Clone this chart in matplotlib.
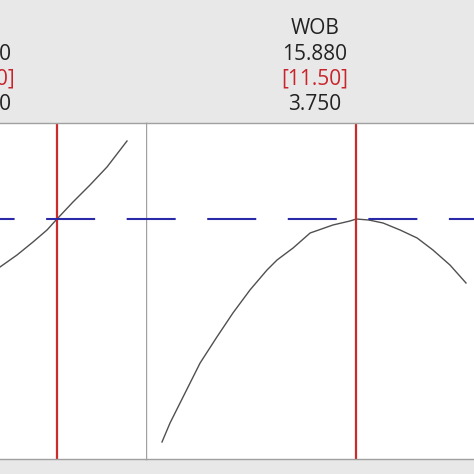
import matplotlib.pyplot as plt
from matplotlib.lines import Line2D
from matplotlib.transforms import blended_transform_factory

plt.rcParams['font.family'] = ['Open Sans', 'DejaVu Sans']
plt.rcParams['lines.scale_dashes'] = False

# response optimizer panels (left factor is cut off in the picture)
left_x = [0, 17, 33, 47, 57, 73, 90, 107, 127]
left_y = [192, 204, 217, 229, 240, 257, 274, 292, 318]
left_cur = 57
left_labels = ['90.0', '[60.0]', '30.0']

wob = [3.75, 4.07, 4.59, 5.27, 5.94, 6.58, 7.26, 7.94, 8.34, 8.98, 9.66,
       10.57, 11.25, 11.5, 12.0, 12.57, 13.25, 13.93, 14.56, 15.24, 15.88]
wob_y = [17, 36, 62, 96, 122, 146, 169, 189, 199, 211, 226,
         234, 238, 240, 239, 236, 229, 221, 209, 194, 176]
wob_high, wob_cur, wob_low = 15.880, 11.50, 3.750

y_cur = 240

W = H = 474
fig = plt.figure(figsize=(4.74, 4.74), dpi=100)
fig.patch.set_facecolor('#e8e8e8')

top, bot = 123, 459
ay = (H - bot) / H
ah = (bot - top) / H

# right panel: WOB, 3.75 at px 162 and 15.88 at px 466
ax_r = fig.add_axes([146 / W, ay, 336 / W, ah])
px_per = (466 - 162) / (wob_high - wob_low)
ax_r.set_xlim(wob_low - 16 / px_per, wob_low + 320 / px_per)
# left panel
ax_l = fig.add_axes([-190 / W, ay, 336 / W, ah])
ax_l.set_xlim(-190, 146)

for ax in (ax_l, ax_r):
    ax.set_ylim(0, bot - top)
    ax.set_facecolor('white')
    ax.set_xticks([])
    ax.set_yticks([])
    for s in ax.spines.values():
        s.set_color('#a0a0a0')
        s.set_linewidth(1.0)
ax_l.spines['right'].set_visible(False)

ax_l.plot(left_x, left_y, color='#505050', lw=1.0)
ax_l.axvline(left_cur, color='#cc2b2b', lw=1.6)
ax_r.plot(wob, wob_y, color='#505050', lw=1.0)
ax_r.axvline(wob_cur, color='#cc2b2b', lw=1.6)

# dashed line runs through both panels
tr = blended_transform_factory(fig.transFigure, ax_r.transData)
fig.add_artist(Line2D([0.0, 1.0], [y_cur, y_cur], transform=tr,
                      color='#2a2aa8', lw=1.5, linestyle=(24.8, (35.3, 22.7))))

# header texts
cx = 315 / W
tc = '#222222'
rc = '#c8242c'
fig.text(cx, 1 - 29 / H, 'WOB', ha='center', va='center', fontsize=15, color=tc)
fig.text(cx, 1 - 54 / H, f'{wob_high:.3f}', ha='center', va='center', fontsize=15, color=tc)
fig.text(cx, 1 - 79 / H, f'[{wob_cur:.2f}]', ha='center', va='center', fontsize=15, color=rc)
fig.text(cx, 1 - 104 / H, f'{wob_low:.3f}', ha='center', va='center', fontsize=15, color=tc)

lx = 11 / W
fig.text(lx, 1 - 54 / H, left_labels[0], ha='right', va='center', fontsize=15, color=tc)
fig.text(lx + 4 / W, 1 - 79 / H, left_labels[1], ha='right', va='center', fontsize=15, color=rc)
fig.text(lx, 1 - 104 / H, left_labels[2], ha='right', va='center', fontsize=15, color=tc)

fig.savefig('out.png', dpi=100, facecolor=fig.get_facecolor())
